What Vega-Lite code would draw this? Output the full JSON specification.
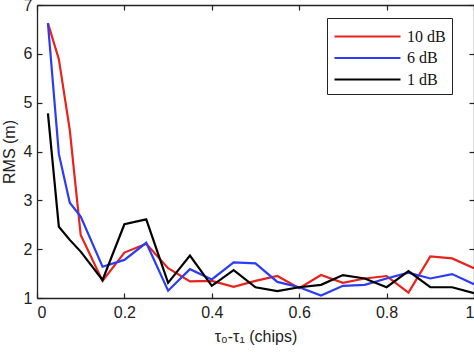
{
  "$schema": "https://vega.github.io/schema/vega-lite/v6.json",
  "width": 437,
  "height": 293,
  "autosize": {"type": "none"},
  "padding": {"left": 37, "top": 5, "right": 0, "bottom": 57},
  "background": "white",
  "config": {
    "view": {"stroke": null},
    "axis": {"grid": false, "domainColor": "#222", "domainWidth": 1.3, "tickColor": "#222", "tickWidth": 1.2, "labelFont": "Liberation Sans", "labelFontSize": 16, "labelColor": "#222", "titleFont": "Liberation Sans", "titleFontSize": 16, "titleFontWeight": "normal", "titleColor": "#222"}
  },
  "data": {"values": [
    {"x": 0.025, "s": "10 dB", "y": 6.63}, {"x": 0.05, "s": "10 dB", "y": 5.89}, {"x": 0.075, "s": "10 dB", "y": 4.44}, {"x": 0.1, "s": "10 dB", "y": 2.29}, {"x": 0.15, "s": "10 dB", "y": 1.35}, {"x": 0.2, "s": "10 dB", "y": 1.93}, {"x": 0.25, "s": "10 dB", "y": 2.11}, {"x": 0.3, "s": "10 dB", "y": 1.61}, {"x": 0.35, "s": "10 dB", "y": 1.34}, {"x": 0.4, "s": "10 dB", "y": 1.35}, {"x": 0.45, "s": "10 dB", "y": 1.23}, {"x": 0.5, "s": "10 dB", "y": 1.35}, {"x": 0.55, "s": "10 dB", "y": 1.45}, {"x": 0.6, "s": "10 dB", "y": 1.2}, {"x": 0.65, "s": "10 dB", "y": 1.47}, {"x": 0.7, "s": "10 dB", "y": 1.31}, {"x": 0.75, "s": "10 dB", "y": 1.4}, {"x": 0.8, "s": "10 dB", "y": 1.45}, {"x": 0.85, "s": "10 dB", "y": 1.11}, {"x": 0.9, "s": "10 dB", "y": 1.85}, {"x": 0.95, "s": "10 dB", "y": 1.81}, {"x": 1.0, "s": "10 dB", "y": 1.61},
    {"x": 0.025, "s": "6 dB", "y": 6.63}, {"x": 0.05, "s": "6 dB", "y": 3.95}, {"x": 0.075, "s": "6 dB", "y": 2.95}, {"x": 0.1, "s": "6 dB", "y": 2.67}, {"x": 0.15, "s": "6 dB", "y": 1.64}, {"x": 0.2, "s": "6 dB", "y": 1.78}, {"x": 0.25, "s": "6 dB", "y": 2.13}, {"x": 0.3, "s": "6 dB", "y": 1.15}, {"x": 0.35, "s": "6 dB", "y": 1.59}, {"x": 0.4, "s": "6 dB", "y": 1.38}, {"x": 0.45, "s": "6 dB", "y": 1.73}, {"x": 0.5, "s": "6 dB", "y": 1.71}, {"x": 0.55, "s": "6 dB", "y": 1.33}, {"x": 0.6, "s": "6 dB", "y": 1.22}, {"x": 0.65, "s": "6 dB", "y": 1.05}, {"x": 0.7, "s": "6 dB", "y": 1.25}, {"x": 0.75, "s": "6 dB", "y": 1.27}, {"x": 0.8, "s": "6 dB", "y": 1.4}, {"x": 0.85, "s": "6 dB", "y": 1.52}, {"x": 0.9, "s": "6 dB", "y": 1.4}, {"x": 0.95, "s": "6 dB", "y": 1.49}, {"x": 1.0, "s": "6 dB", "y": 1.28},
    {"x": 0.025, "s": "1 dB", "y": 4.78}, {"x": 0.05, "s": "1 dB", "y": 2.46}, {"x": 0.075, "s": "1 dB", "y": 2.19}, {"x": 0.1, "s": "1 dB", "y": 1.95}, {"x": 0.15, "s": "1 dB", "y": 1.37}, {"x": 0.2, "s": "1 dB", "y": 2.51}, {"x": 0.25, "s": "1 dB", "y": 2.61}, {"x": 0.3, "s": "1 dB", "y": 1.31}, {"x": 0.35, "s": "1 dB", "y": 1.87}, {"x": 0.4, "s": "1 dB", "y": 1.25}, {"x": 0.45, "s": "1 dB", "y": 1.57}, {"x": 0.5, "s": "1 dB", "y": 1.22}, {"x": 0.55, "s": "1 dB", "y": 1.14}, {"x": 0.6, "s": "1 dB", "y": 1.22}, {"x": 0.65, "s": "1 dB", "y": 1.27}, {"x": 0.7, "s": "1 dB", "y": 1.47}, {"x": 0.75, "s": "1 dB", "y": 1.4}, {"x": 0.8, "s": "1 dB", "y": 1.22}, {"x": 0.85, "s": "1 dB", "y": 1.55}, {"x": 0.9, "s": "1 dB", "y": 1.22}, {"x": 0.95, "s": "1 dB", "y": 1.22}, {"x": 1.0, "s": "1 dB", "y": 1.1}
  ]},
  "layer": [
    {
      "mark": {"type": "line", "strokeWidth": 2.2, "clip": true},
      "encoding": {
        "x": {"field": "x", "type": "quantitative", "scale": {"domain": [0, 1], "nice": false}, "axis": {"orient": "bottom", "values": [0, 0.2, 0.4, 0.6, 0.8, 1], "format": "~g", "tickSize": -5, "labelPadding": 11, "title": "τ₀-τ₁ (chips)", "titlePadding": 8}},
        "y": {"field": "y", "type": "quantitative", "scale": {"domain": [1, 7], "nice": false, "zero": false}, "axis": {"orient": "left", "values": [1, 2, 3, 4, 5, 6, 7], "tickSize": -5, "labelPadding": 10, "title": "RMS (m)", "titlePadding": 6}},
        "color": {"field": "s", "type": "nominal", "scale": {"domain": ["10 dB", "6 dB", "1 dB"], "range": ["#e8231c", "#2b3cf2", "#000000"]}, "legend": {"title": null, "orient": "none", "legendX": 290, "legendY": 13, "symbolType": "M-1,0H5", "symbolSize": 484, "symbolStrokeWidth": 2.2, "symbolFillColor": "transparent", "labelFont": "Liberation Serif", "labelFontSize": 16, "labelColor": "#111", "labelOffset": 49, "strokeColor": "#222", "fillColor": "white", "padding": 6, "rowPadding": 0.5}}
      }
    },
    {
      "mark": {"type": "line", "opacity": 0},
      "encoding": {
        "x": {"field": "x", "type": "quantitative", "axis": {"orient": "top", "values": [0, 0.2, 0.4, 0.6, 0.8, 1], "labels": false, "tickSize": -5, "title": null}},
        "y": {"field": "y", "type": "quantitative", "axis": {"orient": "right", "values": [1, 2, 3, 4, 5, 6, 7], "labels": false, "tickSize": -5, "title": null}},
        "detail": {"field": "s"}
      }
    }
  ],
  "resolve": {"axis": {"x": "independent", "y": "independent"}}
}
